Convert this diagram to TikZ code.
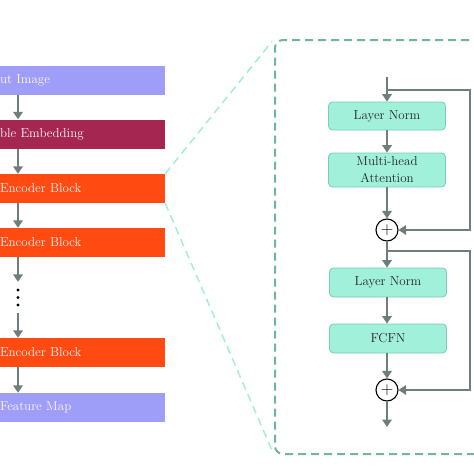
\documentclass[tikz,border=0pt]{standalone}
\usepackage{fontspec}
\usepackage{tikz}
\usetikzlibrary{arrows.meta, positioning}

\definecolor{inputlav}{RGB}{158,158,248}
\definecolor{embedred}{RGB}{166,38,82}
\definecolor{encorange}{RGB}{255,74,18}
\definecolor{arrowgray}{RGB}{112,125,125}
\definecolor{tealfill}{RGB}{160,240,218}
\definecolor{tealedge}{RGB}{118,206,180}
\definecolor{framegreen}{RGB}{110,182,160}
\definecolor{zoomcyan}{RGB}{165,236,222}

\begin{document}
\begin{tikzpicture}[x=1pt,y=-1pt]
		\tikzstyle{StageBox} = [rectangle, minimum width=170pt, text width=160pt, inner xsep=5pt, minimum height=29pt, align=left, text=white!96!red, font=\fontsize{13}{15}\selectfont]
		\tikzstyle{SubLayer} = [rectangle, rounded corners=4pt, minimum width=117pt, minimum height=29pt, align=center, draw=tealedge, line width=0.8pt, fill=tealfill, text=black!85, font=\fontsize{13}{17}\selectfont]
		\tikzstyle{AddNode} = [circle, draw=black, fill=white, line width=1.1pt, minimum size=22pt, inner sep=0pt, font=\fontsize{16}{16}\selectfont]
		\tikzstyle{arrow} = [line width=2.5pt, draw=arrowgray, -{Triangle[length=7.5pt,width=9.5pt]}]
		\tikzstyle{ZoomFrame} = [rectangle, rounded corners=8pt, draw=framegreen, line width=2pt, dash pattern=on 8pt off 5pt]
		\tikzstyle{zoomline} = [draw=zoomcyan, line width=1.5pt, dash pattern=on 8pt off 5pt]
		
		\useasboundingbox (0,0) rectangle (474,474);
		\clip (0,0) rectangle (474,474);
		
		%\draw[step=10pt,gray,very thin] (0,0) grid (474,474);
		
		% backbone on the left
		\coordinate (col) at (18,0);
		\node (inimg) [StageBox, fill=inputlav] at (80,80) {ut Image};
		\node (embed) [StageBox, fill=embedred] at (80,134) {ble Embedding};
		\node (enc1) [StageBox, fill=encorange] at (80,188.5) {Encoder Block};
		\node (enc2) [StageBox, fill=encorange] at (80,242.5) {Encoder Block};
		\node (dots) [minimum width=4pt, minimum height=31pt, inner sep=0pt] at (18,297.5) {};
		\node (enc3) [StageBox, fill=encorange] at (80,352.5) {Encoder Block};
		\node (featmap) [StageBox, fill=inputlav] at (80,407.5) {Feature Map};
		\foreach \d in {-7.5,0,7.5}
			\fill ([yshift=\d pt]dots.center) circle (1.7pt);
		\draw [arrow] (inimg.south -| col) -- (embed.north -| col);
		\draw [arrow] (embed.south -| col) -- (enc1.north -| col);
		\draw [arrow] (enc1.south -| col) -- (enc2.north -| col);
		\draw [arrow] (enc2.south -| col) -- (dots.north);
		\draw [arrow] (dots.south) -- (enc3.north -| col);
		\draw [arrow] (enc3.south -| col) -- (featmap.north -| col);
		
		% zoomed encoder block
		\node (zoomframe) [ZoomFrame, minimum width=215pt, minimum height=414pt] at (382.5,247) {};
		\draw [zoomline, shorten >=3pt] (enc1.north east) -- (zoomframe.north west);
		\draw [zoomline, shorten >=3pt] (enc1.south east) -- (zoomframe.south west);
		
		\coordinate (blockin) at (387,77);
		\coordinate (blockout) at (387,427);
		\node (norm1) [SubLayer, minimum height=28pt] at (387,116) {Layer Norm};
		\node (attn) [SubLayer, minimum height=34pt, inner ysep=1pt] at (387,170) {Multi-head\\Attention};
		\node (add1) [AddNode] at (387,230) {$+$};
		\node (norm2) [SubLayer] at (388,282.5) {Layer Norm};
		\node (fcfn) [SubLayer] at (388,338.5) {FCFN};
		\node (add2) [AddNode] at (387,390) {$+$};
		\coordinate (skip1) at (387,90);
		\coordinate (skip2) at (387,251);
		
		\draw [arrow] (blockin) -- (norm1.north -| blockin);
		\draw [arrow] (norm1.south -| blockin) -- (attn.north -| blockin);
		\draw [arrow] (attn.south -| blockin) -- (add1.north);
		\draw [arrow] (add1.south) -- (norm2.north -| add1);
		\draw [arrow] (norm2.south -| add1) -- (fcfn.north -| add1);
		\draw [arrow] (fcfn.south -| add1) -- (add2.north);
		\draw [arrow] (add2.south) -- (blockout);
		\draw [arrow] (skip1) -- ++(83,0) |- (add1.east);
		\draw [arrow] (skip2) -- ++(83,0) |- (add2.east);
		\end{tikzpicture}
\end{document}
